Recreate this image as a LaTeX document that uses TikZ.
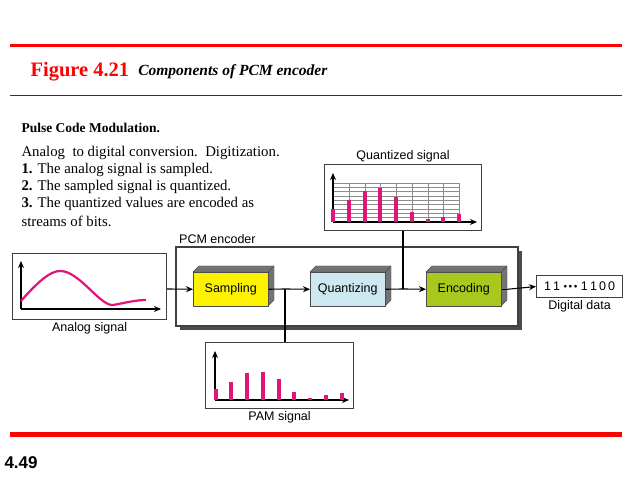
\documentclass[tikz,border=0pt]{standalone}
\usepackage{fontspec}
\usetikzlibrary{arrows.meta}
\setmainfont{Liberation Serif}
\newfontfamily\sans{Liberation Sans}
\definecolor{encg}{HTML}{A8C81E}
\definecolor{quantb}{HTML}{CDE8F0}
\definecolor{sigm}{HTML}{E0157A}
\begin{document}
\begin{tikzpicture}[x=1pt,y=-1pt,
  lbl/.style={font=\sans\fontsize{12.5}{14}\selectfont},
  panel/.style={draw=black!75,line width=1.1pt,fill=white},
  bar/.style={draw=sigm,line width=3.6pt},
  sig/.style={draw=sigm,line width=2.2pt},
  arr/.style={-{Stealth[length=7pt,width=6pt]},line width=1.1pt},
  ln/.style={line width=1.1pt},
  body/.style={anchor=west,font=\fontsize{14.8}{16}\selectfont}]
\useasboundingbox (0,0) rectangle (638,478);
\fill[red] (10,44.5) rectangle (622,47.5);
\fill[red] (10,432.5) rectangle (622,437.5);
\draw[black!80,line width=0.9pt] (10,95) -- (622,95);
\node[anchor=west,text=red,font=\bfseries\fontsize{20.5}{22}\selectfont] (fig) at (27,72) {Figure 4.21};
\node[anchor=west,font=\bfseries\itshape\fontsize{15.5}{17}\selectfont] (cap) at ([xshift=2pt]fig.east) {Components of PCM encoder};
\node[anchor=west,font=\sans\bfseries\fontsize{17}{19}\selectfont] (pg) at (1,463) {4.49};
\node[body,font=\bfseries\fontsize{13.5}{15}\selectfont] (t0) at (18,128) {Pulse Code Modulation.};
\node[body] (t1) at (18,153) {Analog\ \ to digital conversion.\ \ Digitization.};
\node[body] (t2) at (18,170) {\textbf{1.} The analog signal is sampled.};
\node[body] (t3) at (18,187) {\textbf{2.} The sampled signal is quantized.};
\node[body] (t4) at (18,204) {\textbf{3.} The quantized values are encoded as};
\node[body] (t5) at (18,221) {streams of bits.};
% PCM encoder box
\fill[black!70] (180,251) rectangle (522,330);
\draw[panel] (176,247) rectangle (518,326);
\node[lbl,anchor=south west,inner sep=1pt] (pcm) at (178,245) {PCM encoder};
% 3D blocks
\foreach \n/\x/\c/\t in {samp/193/yellow/Sampling,quant/310/quantb/Quantizing,enc/426/encg/Encoding}{
  \fill[black!55,draw=black!70,line width=0.4pt] (\x,272) -- (\x+6,266) -- (\x+81,266) -- (\x+81,300) -- (\x+75,306) -- (\x+75,272) -- cycle;
  \draw[black!70,line width=0.4pt] (\x+75,272) -- (\x+81,266);
  \node[draw=black!70,line width=0.5pt,fill=\c,minimum width=75pt,minimum height=34pt,anchor=north west,inner sep=0pt,lbl] (\n) at (\x,272) {\t};
}
% analog panel
\node[panel,minimum width=154pt,minimum height=66pt,anchor=north west,inner sep=0pt] (an) at (12,253) {};
\node[lbl,anchor=north,inner sep=2pt] (anl) at (an.south) {Analog signal};
\draw[arr] (21,309) -- (21,261);
\draw[arr] (21,309) -- (161,309);
\draw[sig] (21,301) .. controls (35,285) and (50,270) .. (61,271) .. controls (80,272) and (100,306) .. (113,305) .. controls (125,303) and (135,300) .. (146,300);
% digital data
\node[draw=black!75,line width=1.1pt,minimum width=86pt,minimum height=22pt,inner sep=0pt,anchor=north west,font=\sans\fontsize{12.5}{14}\selectfont] (dd) at (536,275) {1\,1 \raisebox{2pt}{\scalebox{0.6}{$\bullet\bullet\bullet$}} 1\,1\,0\,0};
\node[lbl,anchor=north,inner sep=2pt] (ddl) at (dd.south) {Digital data};
% quantized panel
\node[panel,minimum width=157pt,minimum height=66pt,anchor=north west,inner sep=0pt] (qp) at (324,164) {};
\node[lbl,anchor=south,inner sep=2pt] (qpl) at (qp.north) {Quantized signal};
\foreach \k in {0,...,9} \draw[black!45,line width=0.4pt] (333,183+\k*4.33) -- (459,183+\k*4.33);
\foreach \x in {349,365,380,396,412,428,443,459} \draw[black!45,line width=0.4pt] (\x,183) -- (\x,222);
\draw[arr] (333,222) -- (333,173);
\draw[arr] (333,222) -- (477,222);
\foreach \x/\y in {333/209,349/200,365/191,380/188,396/197,412/212,428/219,443/217,459/214} \draw[bar] (\x,222) -- (\x,\y);
% PAM panel
\node[panel,minimum width=148pt,minimum height=66pt,anchor=north west,inner sep=0pt] (pp) at (205,342) {};
\node[lbl,anchor=north,inner sep=2pt] (ppl) at (pp.south) {PAM signal};
\draw[arr] (215,400) -- (215,351);
\draw[arr] (215,400) -- (349,400);
\foreach \x/\y in {216/389,231/382,247/373,263/372,279/379,294/392,310/398,326/395,342/393} \draw[bar] (\x,400) -- (\x,\y);
% connectors
\coordinate (j1) at (285,289);
\coordinate (j2) at (403,289);
\draw[arr] (an.east |- 0,289) -- (samp.west);
\draw[ln] (samp.east) -- (j1);
\draw[arr] (j1) -- (quant.west);
\draw[ln] (j1) -- (j1 |- pp.north);
\draw[ln] (quant.east) -- (j2);
\draw[arr] (j2) -- (enc.west);
\draw[ln] (j2) -- (j2 |- qp.south);
\draw[arr] (enc.east) ++(6,0) -- (dd.west);
\draw[ln] (enc.east) -- ++(6,0);
\end{tikzpicture}
\end{document}
